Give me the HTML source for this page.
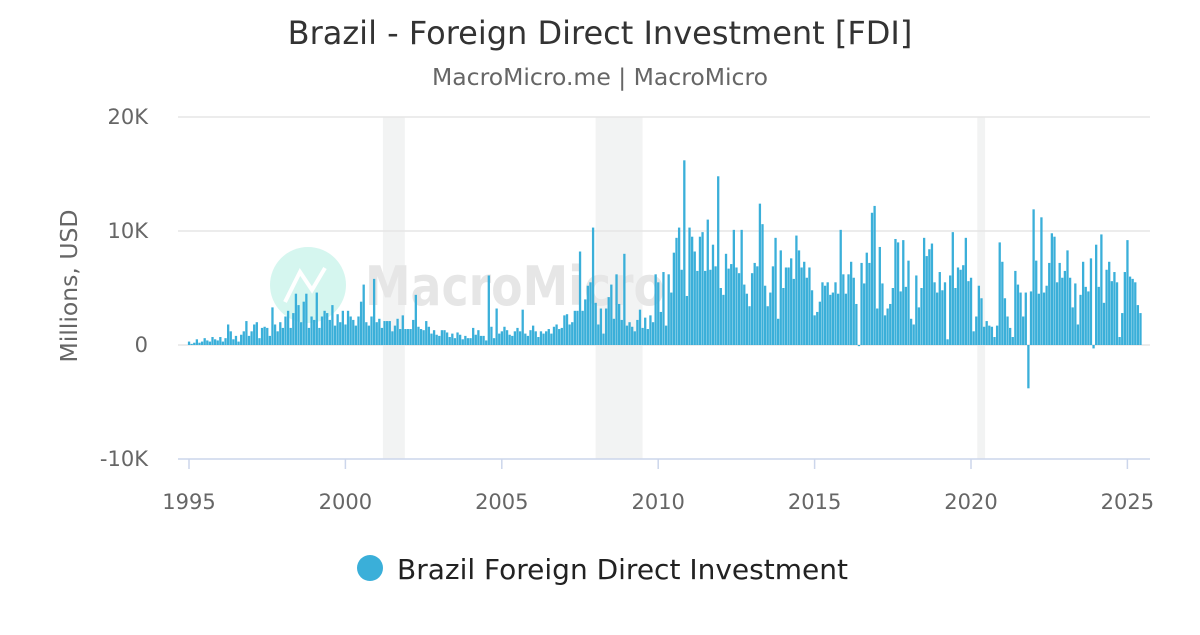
<!DOCTYPE html>
<html><head><meta charset="utf-8"><style>
body{margin:0;background:#fff;font-family:"Liberation Sans","DejaVu Sans",sans-serif}
svg text{font-family:"DejaVu Sans","Liberation Sans",sans-serif}
</style></head><body>
<svg id="chart" width="1200" height="630" xmlns="http://www.w3.org/2000/svg">
<text x="600" y="44" text-anchor="middle" font-size="32" fill="#333">Brazil - Foreign Direct Investment [FDI]</text>
<text x="600" y="85" text-anchor="middle" font-size="23.5" fill="#666">MacroMicro.me | MacroMicro</text>
<g id="bands"></g>
<g id="grid"></g>
<g>
<circle cx="308" cy="285" r="38" fill="#d5f6ef"/>
<path d="M285 302 L300 272 L312 290 L325 268" stroke="#fff" stroke-width="4" fill="none"/>
<text x="365" y="305" font-size="54" fill="#e6e6e6" font-weight="bold" textLength="300" lengthAdjust="spacingAndGlyphs">MacroMicro</text>
</g>
<g id="bars"></g>
<g id="axes"></g>
<text transform="translate(77,286) rotate(-90)" text-anchor="middle" font-size="23.5" fill="#666">Millions, USD</text>
<g>
<circle cx="370" cy="568" r="13" fill="#3aafd9"/>
<text x="397" y="579" font-size="28" fill="#222">Brazil Foreign Direct Investment</text>
</g>
</svg>
<script>
const startYear = 1995;
const yTicks = [-10000, 0, 10000, 20000];
const yTickLabels = ["-10K", "0", "10K", "20K"];
const xTicks = [1995, 2000, 2005, 2010, 2015, 2020, 2025];
const recessions = [[2001.2, 2001.9], [2008.0, 2009.5], [2020.2, 2020.45]];
const fdi = [
300,100,200,500,200,300,600,400,300,700,500,400,
700,300,600,1800,1200,500,800,300,900,1200,2100,800,
1200,1800,2000,600,1500,1600,1500,800,3300,1800,1200,2000,
1500,2500,3000,1500,2800,4500,3500,2000,3800,4500,1500,2500,
2200,4600,1500,2500,3000,2800,2200,3500,1700,2700,2000,3000,
1800,3000,2500,2200,1700,2500,3800,5300,2000,1700,2500,5800,
2000,2300,1500,2100,2100,2100,1200,1700,2300,1400,2600,1400,
1400,1400,2200,4400,1600,1400,1300,2100,1600,1000,1300,900,
800,1300,1300,1100,700,1000,600,1100,900,500,800,600,
600,1500,900,1300,800,800,400,6100,1600,600,3200,1000,
1200,1600,1300,900,800,1200,1500,1200,3100,1000,800,1300,
1700,1200,700,1200,1000,1200,1400,1000,1600,1800,1400,1500,
2600,2700,1800,2000,3000,3000,8200,3000,4000,5200,5500,10300,
3700,1800,3200,1000,3200,4200,5300,2300,6200,3600,2200,8000,
1700,2000,1600,1200,2200,3100,1500,2400,1400,2600,2000,6200,
5500,2900,6400,1700,6200,4600,8100,9400,10300,6600,16200,4300,
10300,9500,8200,6500,9500,9900,6500,11000,6600,8800,6900,14800,
5000,4400,8000,6700,7100,10100,6800,6300,10100,5300,4500,3400,
6300,7200,6900,12400,10600,5200,3400,4600,6900,9400,2300,8300,
5000,6800,6800,7600,5800,9600,8300,6800,7300,5900,6800,4800,
2600,2900,3800,5500,5200,5500,4400,4600,5500,4500,10100,6200,
4500,6200,7300,5900,3600,-100,7200,5400,8100,7200,11600,12200,
3200,8600,5400,2600,3200,3600,5000,9300,9000,4700,9200,5100,
7400,2300,1800,6100,3300,5000,9400,7800,8400,8900,5500,4600,
6400,4800,5500,500,6100,9900,5000,6800,6600,7000,9400,5600,
5900,1200,2500,5200,4100,1600,2100,1700,1600,700,1700,9000,
7300,4100,2500,1500,700,6500,5300,4600,2500,4600,-3800,4700,
11900,7400,4500,11200,4600,5200,7200,9800,9500,5500,7200,5900,
6500,8300,5900,3300,5400,1800,4400,7300,5100,4700,7600,-300,
8800,5100,9700,3700,6600,7300,5600,6400,5500,700,2800,6400,
9200,6000,5800,5500,3500,2800
];
const NS = "http://www.w3.org/2000/svg";
const xScale = t => 189 + (t - 1995) * 31.28;
const yScale = v => 345 - v * 0.0114;
function mk(tag, attrs, parent) {
  const e = document.createElementNS(NS, tag);
  for (const k in attrs) e.setAttribute(k, attrs[k]);
  document.getElementById(parent).appendChild(e);
  return e;
}
recessions.forEach(r => {
  const e = mk("rect", {x: xScale(r[0]), y: 117, width: xScale(r[1]) - xScale(r[0]), height: 342, fill: "#f2f3f3"}, "bands");
  
  
});
yTicks.forEach((v, i) => {
  const y = yScale(v);
  const l = mk("line", {x1: 178, x2: 1150, y1: y, y2: y, stroke: i === 0 ? "#ccd6eb" : "#e6e6e6", "stroke-width": 1.5}, "grid");
  
  
  const t = mk("text", {x: 148, y: y + 7, "text-anchor": "end", "font-size": 21, fill: "#666"}, "axes");
  t.textContent = yTickLabels[i];
  
  
});
xTicks.forEach(yr => {
  const x = xScale(yr);
  const tk = mk("line", {x1: x, x2: x, y1: 459, y2: 469, stroke: "#ccd6eb", "stroke-width": 1.5}, "axes");
  
  
  const t = mk("text", {x: x, y: 509, "text-anchor": "middle", "font-size": 21, fill: "#666"}, "axes");
  t.textContent = yr;
  
  
});
fdi.forEach((v, i) => {
  const x = xScale(startYear + i / 12);
  const y0 = yScale(0), y1 = yScale(v);
  const b = mk("rect", {x: x - 1.1, y: Math.min(y0, y1), width: 2.3, height: Math.max(0.8, Math.abs(y1 - y0)), fill: "#3aafd9"}, "bars");
  
  
});
</script>
</body></html>
